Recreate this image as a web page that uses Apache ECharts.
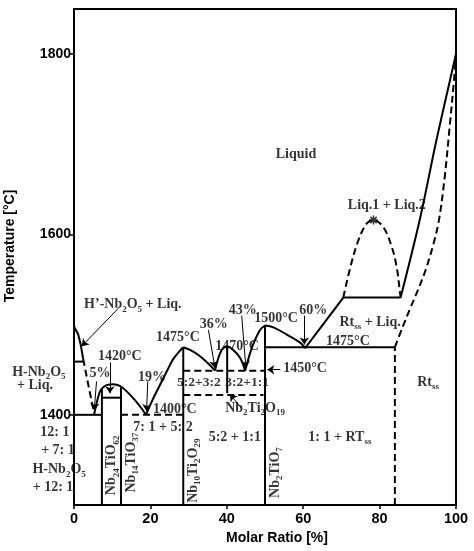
<!DOCTYPE html>
<html><head><meta charset="utf-8">
<script src="https://cdn.jsdelivr.net/npm/echarts@6/dist/echarts.min.js"></script>
<style>html,body{margin:0;padding:0;background:#fff}#c{width:474px;height:551px}</style>
</head><body><div id="c"></div>
<script>
// ---- axis ticks ----
const xTicks = [0, 20, 40, 60, 80, 100];
const tempTicks = [1400, 1600, 1800];

// ---- solid phase boundaries: [molar ratio %, temperature °C] ----
const liqH = [[0,1498],[1.1,1489],[1.75,1478],[2.4,1462]];
const hTransition = [[0,1459],[2.4,1459]];
const eut1400Left = [[0,1400],[7.3,1400]];
const dome1420 = [[5.3,1401],[6.6,1424],[7.3,1429],[8.5,1433],[10.3,1434],[12,1432],[13.8,1426],[16,1416],[17.7,1407],[18.85,1400]];
const inner1420 = [[7.3,1419],[12.3,1419]];
const liq19to1475 = [[18.85,1400],[20.5,1416],[22.5,1433],[24.5,1450],[26,1462],[27.7,1471],[28.6,1475]];
const liq1475to36 = [[28.6,1475],[30.4,1472],[33,1465],[35.6,1455],[36.9,1449]];
const dome1470 = [[36.9,1449],[37.8,1463],[38.7,1472],[40,1476],[41.7,1472],[43.5,1463],[44.8,1449]];
const liq43to1500 = [[44.8,1449],[46,1467],[46.9,1478],[48.7,1494],[50,1499]];
const liq1500to60 = [[50,1499],[52.2,1497],[55.7,1489],[59.2,1480],[60.5,1474]];
const liq60to70 = [[60.5,1474],[70.5,1530]];
const monotectic = [[70.5,1530],[85.5,1530]];
const liqRight = [[85.5,1530],[90.6,1618],[94.9,1705],[100,1800]];
const eut1475 = [[50,1475],[84,1475]];
const nb24Line = [[7.3,1300],[7.3,1429]];
const nb14Line = [[12.3,1300],[12.3,1431]];
const nb10Line = [[28.6,1300],[28.6,1475]];
const nb2Line = [[50,1300],[50,1499]];
const nb2ti2Line = [[40.1,1424],[40.1,1476]];

// ---- dashed boundaries ----
const liqHDashed = [[2.4,1462],[3.9,1430],[5.3,1401]];
const eut1400Dashed = [[12.3,1400],[28.6,1400]];
const iso1450 = [[28.6,1449],[50,1449]];
const iso1422 = [[28.6,1422],[49.6,1422]];
const rtBoundary = [[84,1300],[84,1475]];
const rtSolidus = [[84,1475],[86,1497],[88,1518],[90,1538],[92,1560],[94,1588],[95.5,1615],[97,1662],[98.4,1722],[99.5,1772],[100,1800]];
const miscGap = [[70.5,1530],[72.3,1563],[74.4,1593],[76.6,1612],[78.4,1616],[81,1608],[83.2,1586],[84.5,1563],[85.3,1537],[85.5,1530]];
const criticalPoint = [[78.4,1616]];

// ---- annotations (text, anchor in data space) ----
const notes = [
  {t:'Liquid', at:[58.1,1689]},
  {t:'Liq.1 + Liq.2', at:[81.9,1632]},
  {t:'Rt{s|ss} + Liq.', at:[77.5,1503]},
  {t:'1475°C', at:[71.7,1481]},
  {t:'Rt{s|ss}', at:[92.7,1436]},
  {t:'1: 1 + RT{s|ss}', at:[69.6,1375]},
  {t:'Nb{s|2}TiO{s|7}', at:[52.6,1336], r:90},
  {t:'60%', at:[62.6,1516]},
  {t:'1500°C', at:[52.9,1507]},
  {t:'43%', at:[44.2,1516]},
  {t:'36%', at:[36.6,1500]},
  {t:'1470°C', at:[42.7,1476]},
  {t:'1475°C', at:[27.2,1486]},
  {t:'1450°C', at:[60.5,1451]},
  {t:'{m|5:2+3:2}', at:[32.7,1436]},
  {t:'{m|3:2+1:1}', at:[45.3,1436]},
  {t:'Nb{s|2}Ti{s|2}O{s|19}', at:[47.4,1407]},
  {t:'5:2 + 1:1', at:[42.1,1375]},
  {t:'Nb{s|10}Ti{s|2}O{s|29}', at:[31.2,1338], r:90},
  {t:'7: 1 + 5: 2', at:[23.3,1386]},
  {t:'1400°C', at:[26.4,1406]},
  {t:'19%', at:[20.4,1442]},
  {t:'1420°C', at:[12,1465]},
  {t:'5%', at:[6.8,1446]},
  {t:'H’-Nb{s|2}O{s|5} + Liq.', at:[15.4,1522]},
  {t:'H-Nb{s|2}O{s|5}', at:[-9.2,1447]},
  {t:'+ Liq.', at:[-10.2,1433]},
  {t:'12: 1', at:[-5,1381]},
  {t:'+ 7: 1', at:[-4.2,1361]},
  {t:'H-Nb{s|2}O{s|5}', at:[-3.9,1339]},
  {t:'+ 12: 1', at:[-5.5,1320]},
  {t:'Nb{s|24}TiO{s|62}', at:[9.9,1344], r:90},
  {t:'Nb{s|14}TiO{s|37}', at:[14.9,1347], r:90}
];

const arrows = [
  [[11.6,1518],[2.0,1476]],
  [[-2.1,1442],[1.1,1436]],
  [[5.9,1437],[5.3,1405]],
  [[9.4,1458],[9.4,1424]],
  [[19.3,1437],[19.0,1404]],
  [[35.2,1494],[36.9,1452]],
  [[43.9,1510],[45.0,1452]],
  [[60.3,1510],[60.3,1478]],
  [[54.0,1450],[50.6,1450]],
  [[43.9,1407],[40.8,1423]],
  [[-0.6,1374],[9.4,1387]],
  [[-0.6,1354],[4.6,1363]]
];

const SERIF = '"Liberation Serif","Times New Roman",serif';
const SANS = '"Liberation Sans",Arial,sans-serif';

function line(data, opts) {
  opts = opts || {};
  return {
    type: 'line', data: data, symbol: 'none', silent: true, clip: false,
    smooth: opts.smooth || false,
    lineStyle: {color: '#000', width: opts.w || 2, type: opts.dash ? [7,4] : 'solid'},
    z: 3
  };
}

const solid = [liqH, hTransition, eut1400Left, inner1420, liq60to70, monotectic, eut1475,
  nb24Line, nb14Line, nb10Line, nb2Line, nb2ti2Line].map(d => line(d));
const curved = [dome1420, liq19to1475, liq1475to36, dome1470, liq43to1500, liq1500to60, liqRight]
  .map(d => line(d, {smooth: 0.35}));
const dashed = [liqHDashed, eut1400Dashed, iso1450, iso1422, rtBoundary].map(d => line(d, {dash: true}));
const dashedCurved = [rtSolidus, miscGap].map(d => line(d, {dash: true, smooth: 0.35}));

const rich = {
  s: {fontFamily: SERIF, fontWeight: 'bold', fontSize: 9, lineHeight: 9, verticalAlign: 'bottom', color: '#000'},
  m: {fontFamily: SERIF, fontWeight: 'bold', fontSize: 13.5, color: '#000'}
};

const noteSeries = {
  type: 'scatter', silent: true, clip: false, symbolSize: 0, z: 5,
  itemStyle: {color: 'transparent'},
  data: notes.map(n => ({
    value: n.at,
    label: {
      show: true, position: 'inside', formatter: n.t, rotate: n.r || 0,
      fontFamily: SERIF, fontWeight: 'bold', fontSize: 14, lineHeight: 18, color: '#000',
      align: 'center', verticalAlign: 'middle', rich: rich
    }
  }))
};

const starSeries = {
  type: 'scatter', silent: true, z: 6, data: criticalPoint,
  symbol: 'path://M5,0L5,10M0,5L10,5M1.5,1.5L8.5,8.5M8.5,1.5L1.5,8.5',
  symbolSize: 9,
  itemStyle: {color: 'none', borderColor: '#000', borderWidth: 1.5}
};

const arrowSeries = {
  type: 'line', data: [], silent: true, clip: false,
  markLine: {
    silent: true, symbol: ['none', 'arrow'], symbolSize: 7, animation: false,
    label: {show: false},
    lineStyle: {color: '#000', width: 1, type: 'solid'},
    emphasis: {disabled: true},
    data: arrows.map(a => [{coord: a[0]}, {coord: a[1]}])
  }
};

const chart = echarts.init(document.getElementById('c'), null, {renderer: 'canvas'});
chart.setOption({
  animation: false,
  backgroundColor: '#fff',
  grid: {left: 74, right: 18, top: 9, bottom: 46, show: true, borderColor: '#000', borderWidth: 2,
         backgroundColor: 'transparent', containLabel: false, outerBoundsMode: 'none'},
  xAxis: {
    type: 'value', min: xTicks[0], max: xTicks[xTicks.length-1], interval: 20,
    name: 'Molar Ratio [%]', nameLocation: 'middle', nameGap: 25,
    nameTextStyle: {fontFamily: SANS, fontWeight: 'bold', fontSize: 14, color: '#000', padding: [0,0,0,24]},
    axisLine: {lineStyle: {color: '#000', width: 2}},
    axisTick: {show: true, length: 4, lineStyle: {color: '#000', width: 1.5}},
    axisLabel: {fontFamily: SANS, fontWeight: 'bold', fontSize: 14.5, color: '#000', margin: 6},
    splitLine: {show: false}
  },
  yAxis: {
    type: 'value', min: 1300, max: 1850, interval: 100,
    name: 'Temperature [°C]', nameLocation: 'middle', nameGap: 57,
    nameTextStyle: {fontFamily: SANS, fontWeight: 'bold', fontSize: 14, color: '#000', padding: [0,0,0,22]},
    axisLine: {lineStyle: {color: '#000', width: 2}},
    axisTick: {show: true, length: 4, customValues: tempTicks, lineStyle: {color: '#000', width: 1.5}},
    axisLabel: {customValues: tempTicks, formatter: v => String(v), fontFamily: SANS, fontWeight: 'bold', fontSize: 14, color: '#000', margin: 3},
    splitLine: {show: false}
  },
  series: [].concat(solid, curved, dashed, dashedCurved, [arrowSeries, noteSeries, starSeries])
});
</script></body></html>
